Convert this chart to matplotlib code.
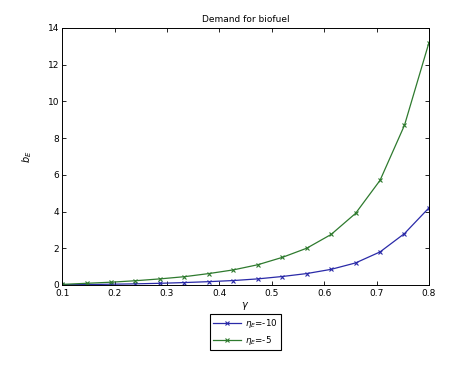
import numpy as np
import matplotlib
matplotlib.use("Agg")
import matplotlib.pyplot as plt

gamma = [0.1, 0.1467, 0.1933, 0.24, 0.2867, 0.3333, 0.38, 0.4267, 0.4733, 0.52,
         0.5667, 0.6133, 0.66, 0.7067, 0.7533, 0.8]
b_eta10 = [0.01, 0.02, 0.04, 0.06, 0.09, 0.13, 0.18, 0.24, 0.33, 0.46,
           0.62, 0.85, 1.2, 1.8, 2.8, 4.2]
b_eta5 = [0.03, 0.09, 0.15, 0.23, 0.33, 0.45, 0.62, 0.82, 1.1, 1.5,
          2.0, 2.75, 3.9, 5.7, 8.7, 13.2]
labels = [r'$\eta_E$=-10', r'$\eta_E$=-5']
xticks = [0.1, 0.2, 0.3, 0.4, 0.5, 0.6, 0.7, 0.8]
yticks = [0, 2, 4, 6, 8, 10, 12, 14]

plt.rcParams['font.family'] = ['DejaVu Sans']
plt.rcParams['mathtext.fontset'] = 'dejavusans'
fig = plt.figure(figsize=(4.74, 3.72), dpi=100)
ax = fig.add_axes([0.131, 0.234, 0.774, 0.691])
ax.plot(gamma, b_eta10, color='#2a2aa8', marker='x', ms=3.5, lw=0.9, mew=0.8, label=labels[0])
ax.plot(gamma, b_eta5, color='#2e7a2e', marker='x', ms=3.5, lw=0.9, mew=0.8, label=labels[1])
ax.set_xlim(0.1, 0.8)
ax.set_ylim(0, 14)
ax.set_xticks(xticks)
ax.set_yticks(yticks)
ax.set_xticklabels([f'{t:g}' for t in xticks])
ax.tick_params(direction='in', top=True, right=True, labelsize=6.5, length=3, width=0.6, pad=2)
ax.tick_params(axis='x', pad=3)
for s in ax.spines.values():
    s.set_linewidth(0.7)
ax.set_title('Demand for biofuel', fontsize=6.5, pad=4)
ax.set_xlabel(r'$\gamma$', fontsize=7, labelpad=1)
ax.set_ylabel(r'$b_E$', fontsize=7, labelpad=10)
leg = ax.legend(loc='upper center', bbox_to_anchor=(0.5, -0.095), fontsize=6.3,
                fancybox=False, framealpha=1, edgecolor='black', handlelength=3.2,
                borderpad=0.35, labelspacing=0.5, handletextpad=0.5)
leg.get_frame().set_linewidth(0.8)
fig.savefig('out.png', dpi=100)
